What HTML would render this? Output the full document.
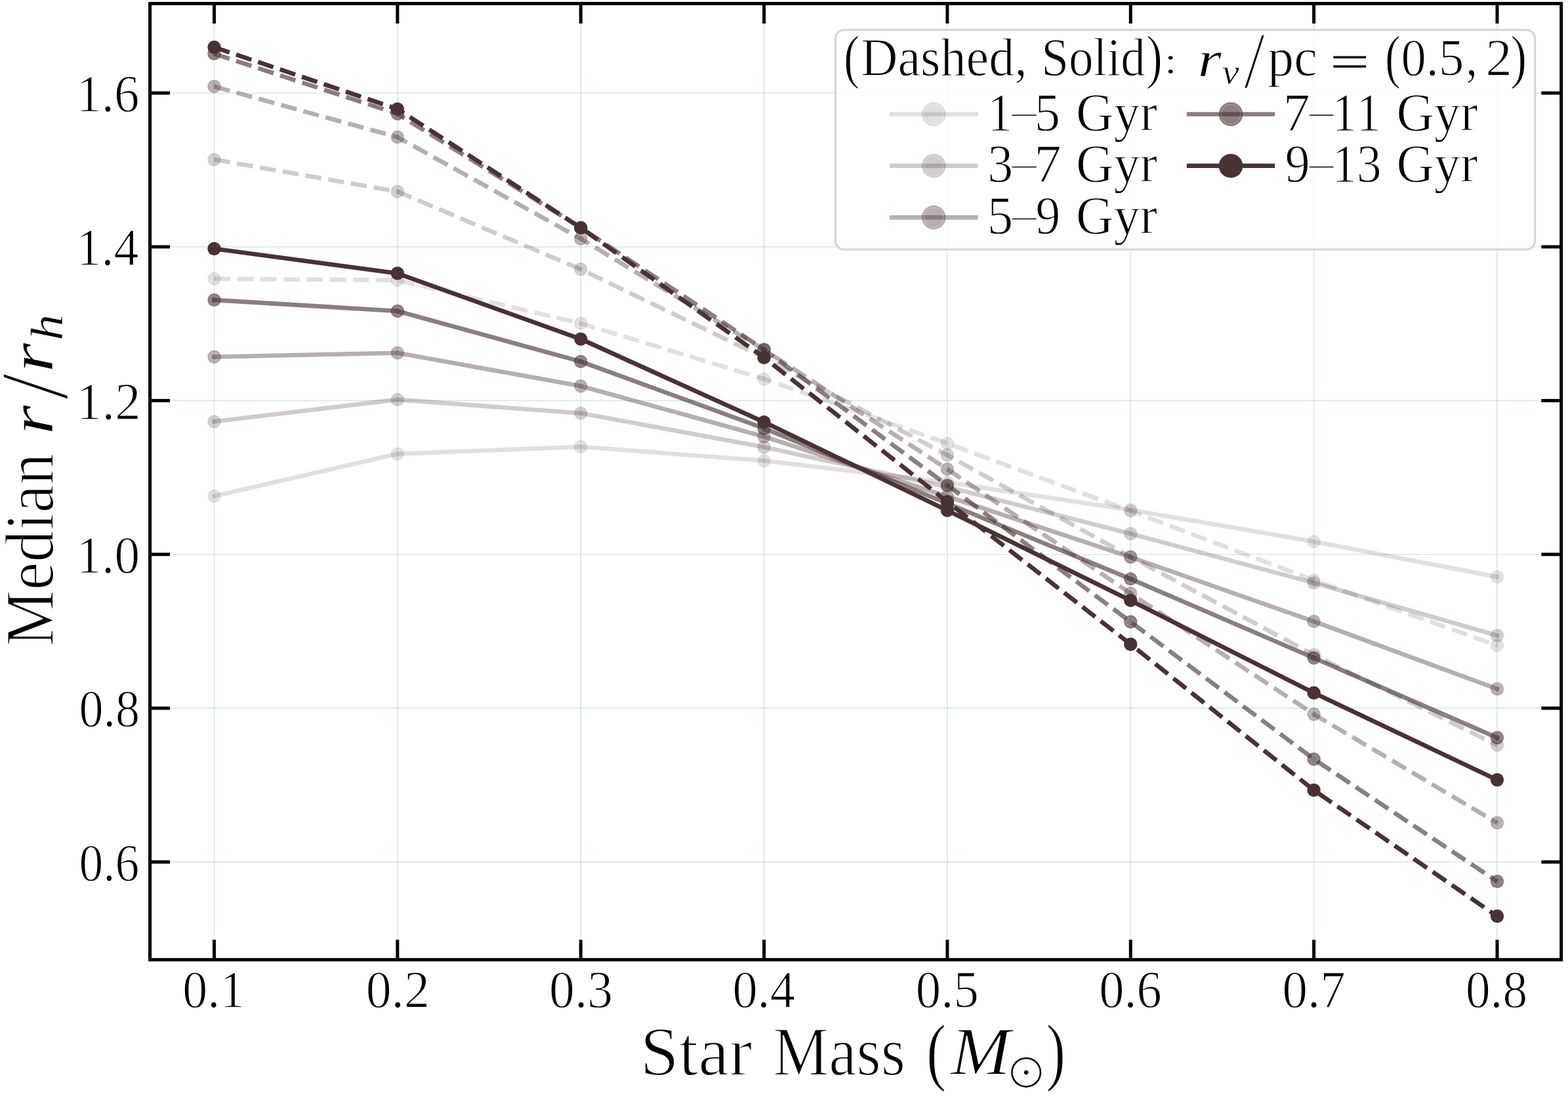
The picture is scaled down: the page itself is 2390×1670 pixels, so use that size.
<!DOCTYPE html>
<html lang="en"><head><meta charset="utf-8"><title>Median r/r_h vs Star Mass</title><style>html,body{margin:0;padding:0;background:#fff}body{width:2390px;height:1670px;overflow:hidden}</style></head>
<body>
<svg width="2390" height="1670" viewBox="0 0 2390 1670" role="img" aria-label="Median r/r_h versus star mass" font-family='"Liberation Serif", serif' fill="#000" style="display:block;font-kerning:none">
<style>text{stroke:#fff;stroke-width:1.3px;stroke-linejoin:round;paint-order:fill stroke}</style>
<rect width="2390" height="1670" fill="#fff"/>
<g stroke="#96bece" stroke-opacity="0.36" stroke-width="1.7" fill="none">
<line x1="326.50" y1="5.4" x2="326.50" y2="1462.3"/>
<line x1="605.86" y1="5.4" x2="605.86" y2="1462.3"/>
<line x1="885.22" y1="5.4" x2="885.22" y2="1462.3"/>
<line x1="1164.58" y1="5.4" x2="1164.58" y2="1462.3"/>
<line x1="1443.94" y1="5.4" x2="1443.94" y2="1462.3"/>
<line x1="1723.30" y1="5.4" x2="1723.30" y2="1462.3"/>
<line x1="2002.66" y1="5.4" x2="2002.66" y2="1462.3"/>
<line x1="2282.02" y1="5.4" x2="2282.02" y2="1462.3"/>
<line x1="228.6" y1="141.75" x2="2379.7" y2="141.75"/>
<line x1="228.6" y1="376.08" x2="2379.7" y2="376.08"/>
<line x1="228.6" y1="610.41" x2="2379.7" y2="610.41"/>
<line x1="228.6" y1="844.74" x2="2379.7" y2="844.74"/>
<line x1="228.6" y1="1079.07" x2="2379.7" y2="1079.07"/>
<line x1="228.6" y1="1313.40" x2="2379.7" y2="1313.40"/>
</g>
<g id="data">
<polyline points="326.50,424.80 605.86,426.90 885.22,492.80 1164.58,577.40 1443.94,675.70 1723.30,778.50 2002.66,884.30 2282.02,983.50" fill="none" stroke="#483234" stroke-opacity="0.158" stroke-width="6.65" stroke-dasharray="24.6 10.65" stroke-linejoin="round"/><g fill="#483234" fill-opacity="0.158"><circle cx="326.50" cy="424.80" r="10.2"/><circle cx="605.86" cy="426.90" r="10.2"/><circle cx="885.22" cy="492.80" r="10.2"/><circle cx="1164.58" cy="577.40" r="10.2"/><circle cx="1443.94" cy="675.70" r="10.2"/><circle cx="1723.30" cy="778.50" r="10.2"/><circle cx="2002.66" cy="884.30" r="10.2"/><circle cx="2282.02" cy="983.50" r="10.2"/></g><g fill="none" stroke="#fff" stroke-opacity="0.32" stroke-width="0.8" stroke-dasharray="4.5 1.6"><circle cx="326.50" cy="424.80" r="6.3"/><circle cx="605.86" cy="426.90" r="6.3"/><circle cx="885.22" cy="492.80" r="6.3"/><circle cx="1164.58" cy="577.40" r="6.3"/><circle cx="1443.94" cy="675.70" r="6.3"/><circle cx="1723.30" cy="778.50" r="6.3"/><circle cx="2002.66" cy="884.30" r="6.3"/><circle cx="2282.02" cy="983.50" r="6.3"/></g>
<polyline points="326.50,755.90 605.86,691.60 885.22,680.80 1164.58,702.00 1443.94,735.00 1723.30,777.00 2002.66,825.30 2282.02,879.00" fill="none" stroke="#483234" stroke-opacity="0.158" stroke-width="6.65" stroke-linecap="square" stroke-linejoin="round"/><g fill="#483234" fill-opacity="0.158"><circle cx="326.50" cy="755.90" r="10.2"/><circle cx="605.86" cy="691.60" r="10.2"/><circle cx="885.22" cy="680.80" r="10.2"/><circle cx="1164.58" cy="702.00" r="10.2"/><circle cx="1443.94" cy="735.00" r="10.2"/><circle cx="1723.30" cy="777.00" r="10.2"/><circle cx="2002.66" cy="825.30" r="10.2"/><circle cx="2282.02" cy="879.00" r="10.2"/></g><g fill="none" stroke="#fff" stroke-opacity="0.32" stroke-width="0.8" stroke-dasharray="4.5 1.6"><circle cx="326.50" cy="755.90" r="6.3"/><circle cx="605.86" cy="691.60" r="6.3"/><circle cx="885.22" cy="680.80" r="6.3"/><circle cx="1164.58" cy="702.00" r="6.3"/><circle cx="1443.94" cy="735.00" r="6.3"/><circle cx="1723.30" cy="777.00" r="6.3"/><circle cx="2002.66" cy="825.30" r="6.3"/><circle cx="2282.02" cy="879.00" r="6.3"/></g>
<polyline points="326.50,243.10 605.86,291.90 885.22,410.30 1164.58,545.00 1443.94,693.50 1723.30,848.50 2002.66,997.70 2282.02,1135.40" fill="none" stroke="#483234" stroke-opacity="0.251" stroke-width="6.65" stroke-dasharray="24.6 10.65" stroke-linejoin="round"/><g fill="#483234" fill-opacity="0.251"><circle cx="326.50" cy="243.10" r="10.2"/><circle cx="605.86" cy="291.90" r="10.2"/><circle cx="885.22" cy="410.30" r="10.2"/><circle cx="1164.58" cy="545.00" r="10.2"/><circle cx="1443.94" cy="693.50" r="10.2"/><circle cx="1723.30" cy="848.50" r="10.2"/><circle cx="2002.66" cy="997.70" r="10.2"/><circle cx="2282.02" cy="1135.40" r="10.2"/></g><g fill="none" stroke="#fff" stroke-opacity="0.32" stroke-width="0.8" stroke-dasharray="4.5 1.6"><circle cx="326.50" cy="243.10" r="6.3"/><circle cx="605.86" cy="291.90" r="6.3"/><circle cx="885.22" cy="410.30" r="6.3"/><circle cx="1164.58" cy="545.00" r="6.3"/><circle cx="1443.94" cy="693.50" r="6.3"/><circle cx="1723.30" cy="848.50" r="6.3"/><circle cx="2002.66" cy="997.70" r="6.3"/><circle cx="2282.02" cy="1135.40" r="6.3"/></g>
<polyline points="326.50,642.40 605.86,608.90 885.22,629.60 1164.58,681.20 1443.94,742.00 1723.30,813.20 2002.66,888.10 2282.02,968.40" fill="none" stroke="#483234" stroke-opacity="0.251" stroke-width="6.65" stroke-linecap="square" stroke-linejoin="round"/><g fill="#483234" fill-opacity="0.251"><circle cx="326.50" cy="642.40" r="10.2"/><circle cx="605.86" cy="608.90" r="10.2"/><circle cx="885.22" cy="629.60" r="10.2"/><circle cx="1164.58" cy="681.20" r="10.2"/><circle cx="1443.94" cy="742.00" r="10.2"/><circle cx="1723.30" cy="813.20" r="10.2"/><circle cx="2002.66" cy="888.10" r="10.2"/><circle cx="2282.02" cy="968.40" r="10.2"/></g><g fill="none" stroke="#fff" stroke-opacity="0.32" stroke-width="0.8" stroke-dasharray="4.5 1.6"><circle cx="326.50" cy="642.40" r="6.3"/><circle cx="605.86" cy="608.90" r="6.3"/><circle cx="885.22" cy="629.60" r="6.3"/><circle cx="1164.58" cy="681.20" r="6.3"/><circle cx="1443.94" cy="742.00" r="6.3"/><circle cx="1723.30" cy="813.20" r="6.3"/><circle cx="2002.66" cy="888.10" r="6.3"/><circle cx="2282.02" cy="968.40" r="6.3"/></g>
<polyline points="326.50,131.80 605.86,209.00 885.22,363.70 1164.58,532.70 1443.94,714.90 1723.30,904.30 2002.66,1088.30 2282.02,1253.80" fill="none" stroke="#483234" stroke-opacity="0.398" stroke-width="6.65" stroke-dasharray="24.6 10.65" stroke-linejoin="round"/><g fill="#483234" fill-opacity="0.398"><circle cx="326.50" cy="131.80" r="10.2"/><circle cx="605.86" cy="209.00" r="10.2"/><circle cx="885.22" cy="363.70" r="10.2"/><circle cx="1164.58" cy="532.70" r="10.2"/><circle cx="1443.94" cy="714.90" r="10.2"/><circle cx="1723.30" cy="904.30" r="10.2"/><circle cx="2002.66" cy="1088.30" r="10.2"/><circle cx="2282.02" cy="1253.80" r="10.2"/></g><g fill="none" stroke="#fff" stroke-opacity="0.32" stroke-width="0.8" stroke-dasharray="4.5 1.6"><circle cx="326.50" cy="131.80" r="6.3"/><circle cx="605.86" cy="209.00" r="6.3"/><circle cx="885.22" cy="363.70" r="6.3"/><circle cx="1164.58" cy="532.70" r="6.3"/><circle cx="1443.94" cy="714.90" r="6.3"/><circle cx="1723.30" cy="904.30" r="6.3"/><circle cx="2002.66" cy="1088.30" r="6.3"/><circle cx="2282.02" cy="1253.80" r="6.3"/></g>
<polyline points="326.50,543.80 605.86,537.70 885.22,588.25 1164.58,665.20 1443.94,756.50 1723.30,848.80 2002.66,946.80 2282.02,1049.80" fill="none" stroke="#483234" stroke-opacity="0.398" stroke-width="6.65" stroke-linecap="square" stroke-linejoin="round"/><g fill="#483234" fill-opacity="0.398"><circle cx="326.50" cy="543.80" r="10.2"/><circle cx="605.86" cy="537.70" r="10.2"/><circle cx="885.22" cy="588.25" r="10.2"/><circle cx="1164.58" cy="665.20" r="10.2"/><circle cx="1443.94" cy="756.50" r="10.2"/><circle cx="1723.30" cy="848.80" r="10.2"/><circle cx="2002.66" cy="946.80" r="10.2"/><circle cx="2282.02" cy="1049.80" r="10.2"/></g><g fill="none" stroke="#fff" stroke-opacity="0.32" stroke-width="0.8" stroke-dasharray="4.5 1.6"><circle cx="326.50" cy="543.80" r="6.3"/><circle cx="605.86" cy="537.70" r="6.3"/><circle cx="885.22" cy="588.25" r="6.3"/><circle cx="1164.58" cy="665.20" r="6.3"/><circle cx="1443.94" cy="756.50" r="6.3"/><circle cx="1723.30" cy="848.80" r="6.3"/><circle cx="2002.66" cy="946.80" r="6.3"/><circle cx="2282.02" cy="1049.80" r="6.3"/></g>
<polyline points="326.50,81.90 605.86,173.40 885.22,347.00 1164.58,532.70 1443.94,739.40 1723.30,947.50 2002.66,1156.70 2282.02,1343.00" fill="none" stroke="#483234" stroke-opacity="0.631" stroke-width="6.65" stroke-dasharray="24.6 10.65" stroke-linejoin="round"/><g fill="#483234" fill-opacity="0.631"><circle cx="326.50" cy="81.90" r="10.2"/><circle cx="605.86" cy="173.40" r="10.2"/><circle cx="885.22" cy="347.00" r="10.2"/><circle cx="1164.58" cy="532.70" r="10.2"/><circle cx="1443.94" cy="739.40" r="10.2"/><circle cx="1723.30" cy="947.50" r="10.2"/><circle cx="2002.66" cy="1156.70" r="10.2"/><circle cx="2282.02" cy="1343.00" r="10.2"/></g><g fill="none" stroke="#fff" stroke-opacity="0.32" stroke-width="0.8" stroke-dasharray="4.5 1.6"><circle cx="326.50" cy="81.90" r="6.3"/><circle cx="605.86" cy="173.40" r="6.3"/><circle cx="885.22" cy="347.00" r="6.3"/><circle cx="1164.58" cy="532.70" r="6.3"/><circle cx="1443.94" cy="739.40" r="6.3"/><circle cx="1723.30" cy="947.50" r="6.3"/><circle cx="2002.66" cy="1156.70" r="6.3"/><circle cx="2282.02" cy="1343.00" r="6.3"/></g>
<polyline points="326.50,457.10 605.86,474.00 885.22,550.90 1164.58,652.70 1443.94,767.00 1723.30,882.10 2002.66,1002.50 2282.02,1124.00" fill="none" stroke="#483234" stroke-opacity="0.631" stroke-width="6.65" stroke-linecap="square" stroke-linejoin="round"/><g fill="#483234" fill-opacity="0.631"><circle cx="326.50" cy="457.10" r="10.2"/><circle cx="605.86" cy="474.00" r="10.2"/><circle cx="885.22" cy="550.90" r="10.2"/><circle cx="1164.58" cy="652.70" r="10.2"/><circle cx="1443.94" cy="767.00" r="10.2"/><circle cx="1723.30" cy="882.10" r="10.2"/><circle cx="2002.66" cy="1002.50" r="10.2"/><circle cx="2282.02" cy="1124.00" r="10.2"/></g><g fill="none" stroke="#fff" stroke-opacity="0.32" stroke-width="0.8" stroke-dasharray="4.5 1.6"><circle cx="326.50" cy="457.10" r="6.3"/><circle cx="605.86" cy="474.00" r="6.3"/><circle cx="885.22" cy="550.90" r="6.3"/><circle cx="1164.58" cy="652.70" r="6.3"/><circle cx="1443.94" cy="767.00" r="6.3"/><circle cx="1723.30" cy="882.10" r="6.3"/><circle cx="2002.66" cy="1002.50" r="6.3"/><circle cx="2282.02" cy="1124.00" r="6.3"/></g>
<polyline points="326.50,71.95 605.86,166.10 885.22,347.10 1164.58,544.80 1443.94,764.60 1723.30,981.70 2002.66,1204.00 2282.02,1396.00" fill="none" stroke="#483234" stroke-opacity="1.0" stroke-width="6.65" stroke-dasharray="24.6 10.65" stroke-linejoin="round"/><g fill="#483234" fill-opacity="1.0"><circle cx="326.50" cy="71.95" r="10.2"/><circle cx="605.86" cy="166.10" r="10.2"/><circle cx="885.22" cy="347.10" r="10.2"/><circle cx="1164.58" cy="544.80" r="10.2"/><circle cx="1443.94" cy="764.60" r="10.2"/><circle cx="1723.30" cy="981.70" r="10.2"/><circle cx="2002.66" cy="1204.00" r="10.2"/><circle cx="2282.02" cy="1396.00" r="10.2"/></g>
<polyline points="326.50,379.00 605.86,416.55 885.22,516.60 1164.58,643.10 1443.94,777.70 1723.30,914.90 2002.66,1055.80 2282.02,1188.30" fill="none" stroke="#483234" stroke-opacity="1.0" stroke-width="6.65" stroke-linecap="square" stroke-linejoin="round"/><g fill="#483234" fill-opacity="1.0"><circle cx="326.50" cy="379.00" r="10.2"/><circle cx="605.86" cy="416.55" r="10.2"/><circle cx="885.22" cy="516.60" r="10.2"/><circle cx="1164.58" cy="643.10" r="10.2"/><circle cx="1443.94" cy="777.70" r="10.2"/><circle cx="1723.30" cy="914.90" r="10.2"/><circle cx="2002.66" cy="1055.80" r="10.2"/><circle cx="2282.02" cy="1188.30" r="10.2"/></g>
</g>
<g stroke="#000" stroke-width="5.0" fill="none">
<line x1="326.50" y1="5.4" x2="326.50" y2="35.8"/>
<line x1="326.50" y1="1462.3" x2="326.50" y2="1431.8999999999999"/>
<line x1="605.86" y1="5.4" x2="605.86" y2="35.8"/>
<line x1="605.86" y1="1462.3" x2="605.86" y2="1431.8999999999999"/>
<line x1="885.22" y1="5.4" x2="885.22" y2="35.8"/>
<line x1="885.22" y1="1462.3" x2="885.22" y2="1431.8999999999999"/>
<line x1="1164.58" y1="5.4" x2="1164.58" y2="35.8"/>
<line x1="1164.58" y1="1462.3" x2="1164.58" y2="1431.8999999999999"/>
<line x1="1443.94" y1="5.4" x2="1443.94" y2="35.8"/>
<line x1="1443.94" y1="1462.3" x2="1443.94" y2="1431.8999999999999"/>
<line x1="1723.30" y1="5.4" x2="1723.30" y2="35.8"/>
<line x1="1723.30" y1="1462.3" x2="1723.30" y2="1431.8999999999999"/>
<line x1="2002.66" y1="5.4" x2="2002.66" y2="35.8"/>
<line x1="2002.66" y1="1462.3" x2="2002.66" y2="1431.8999999999999"/>
<line x1="2282.02" y1="5.4" x2="2282.02" y2="35.8"/>
<line x1="2282.02" y1="1462.3" x2="2282.02" y2="1431.8999999999999"/>
<line x1="228.6" y1="141.75" x2="259.0" y2="141.75"/>
<line x1="2379.7" y1="141.75" x2="2349.2999999999997" y2="141.75"/>
<line x1="228.6" y1="376.08" x2="259.0" y2="376.08"/>
<line x1="2379.7" y1="376.08" x2="2349.2999999999997" y2="376.08"/>
<line x1="228.6" y1="610.41" x2="259.0" y2="610.41"/>
<line x1="2379.7" y1="610.41" x2="2349.2999999999997" y2="610.41"/>
<line x1="228.6" y1="844.74" x2="259.0" y2="844.74"/>
<line x1="2379.7" y1="844.74" x2="2349.2999999999997" y2="844.74"/>
<line x1="228.6" y1="1079.07" x2="259.0" y2="1079.07"/>
<line x1="2379.7" y1="1079.07" x2="2349.2999999999997" y2="1079.07"/>
<line x1="228.6" y1="1313.40" x2="259.0" y2="1313.40"/>
<line x1="2379.7" y1="1313.40" x2="2349.2999999999997" y2="1313.40"/>
<rect x="228.6" y="5.4" width="2151.10" height="1456.90" stroke-linejoin="miter"/>
</g>
<g id="ticklabels">
<text><tspan x="116.50" y="170.15" font-size="80.50" textLength="95.93" lengthAdjust="spacingAndGlyphs">1.6</tspan></text>
<text><tspan x="116.59" y="404.48" font-size="80.50" textLength="94.75" lengthAdjust="spacingAndGlyphs">1.4</tspan></text>
<text><tspan x="116.35" y="638.81" font-size="80.50" textLength="98.13" lengthAdjust="spacingAndGlyphs">1.2</tspan></text>
<text><tspan x="116.46" y="873.14" font-size="80.50" textLength="96.64" lengthAdjust="spacingAndGlyphs">1.0</tspan></text>
<text><tspan x="120.43" y="1107.47" font-size="80.50" textLength="92.54" lengthAdjust="spacingAndGlyphs">0.8</tspan></text>
<text><tspan x="120.45" y="1341.80" font-size="80.50" textLength="91.89" lengthAdjust="spacingAndGlyphs">0.6</tspan></text>
<text><tspan x="278.36" y="1535.00" font-size="80.50" textLength="94.96" lengthAdjust="spacingAndGlyphs">0.1</tspan></text>
<text><tspan x="557.64" y="1535.00" font-size="80.50" textLength="97.36" lengthAdjust="spacingAndGlyphs">0.2</tspan></text>
<text><tspan x="837.01" y="1535.00" font-size="80.50" textLength="97.20" lengthAdjust="spacingAndGlyphs">0.3</tspan></text>
<text><tspan x="1116.42" y="1535.00" font-size="80.50" textLength="95.50" lengthAdjust="spacingAndGlyphs">0.4</tspan></text>
<text><tspan x="1395.76" y="1535.00" font-size="80.50" textLength="96.13" lengthAdjust="spacingAndGlyphs">0.5</tspan></text>
<text><tspan x="1675.13" y="1535.00" font-size="80.50" textLength="95.70" lengthAdjust="spacingAndGlyphs">0.6</tspan></text>
<text><tspan x="1954.47" y="1535.00" font-size="80.50" textLength="96.36" lengthAdjust="spacingAndGlyphs">0.7</tspan></text>
<text><tspan x="2233.90" y="1535.00" font-size="80.50" textLength="94.24" lengthAdjust="spacingAndGlyphs">0.8</tspan></text>
</g>
<g id="xlabel">
<text><tspan x="975.81" y="1638.00" font-size="106.00" textLength="170.72" lengthAdjust="spacingAndGlyphs" style="stroke-width:2.00px">Star</tspan> <tspan x="1178.25" y="1638.00" font-size="106.00" textLength="201.70" lengthAdjust="spacingAndGlyphs" style="stroke-width:2.00px">Mass</tspan> <tspan x="1412.13" y="1640.20" font-size="113.40" textLength="29.69" lengthAdjust="spacingAndGlyphs">(</tspan><tspan x="1449.33" y="1637.40" font-size="103.50" textLength="91.19" lengthAdjust="spacingAndGlyphs" font-style="italic" style="stroke-width:1.50px">M</tspan><tspan x="1531.01" y="1659.30" font-size="79.59" textLength="66.69" lengthAdjust="spacingAndGlyphs" font-family='"DejaVu Serif", "DejaVu Sans", serif' style="stroke-width:3.60px">⊙</tspan><tspan x="1594.73" y="1640.20" font-size="113.40" textLength="29.17" lengthAdjust="spacingAndGlyphs">)</tspan></text>
</g>
<g id="ylabel">
<text transform="rotate(-90)"><tspan x="-984.88" y="80.50" font-size="106.00" textLength="294.44" lengthAdjust="spacingAndGlyphs" style="stroke-width:2.00px">Median</tspan> <tspan x="-662.23" y="79.50" font-size="96.00" textLength="44.94" lengthAdjust="spacingAndGlyphs" font-style="italic" style="stroke-width:0.70px">r</tspan><tspan x="-609.20" y="103.00" font-size="148.00" textLength="40.80" lengthAdjust="spacingAndGlyphs" style="stroke-width:2.60px">/</tspan><tspan x="-567.20" y="79.50" font-size="96.00" textLength="44.61" lengthAdjust="spacingAndGlyphs" font-style="italic" style="stroke-width:0.70px">r</tspan><tspan x="-519.05" y="95.00" font-size="70.00" textLength="40.13" lengthAdjust="spacingAndGlyphs" font-style="italic" style="stroke-width:0.70px">h</tspan></text>
</g>
<g id="legend">
<rect x="1273.4" y="45.6" width="1066.2" height="334.5" rx="13" ry="13" fill="#fff" fill-opacity="0.8" stroke="#ccc" stroke-opacity="0.8" stroke-width="3.1"/>
<text><tspan x="1285.93" y="117.30" font-size="91.45" textLength="24.38" lengthAdjust="spacingAndGlyphs">(</tspan><tspan x="1312.00" y="115.20" font-size="83.00" textLength="253.87" lengthAdjust="spacingAndGlyphs">Dashed,</tspan> <tspan x="1587.22" y="115.20" font-size="83.00" textLength="158.64" lengthAdjust="spacingAndGlyphs">Solid</tspan><tspan x="1747.27" y="117.30" font-size="91.45" textLength="24.63" lengthAdjust="spacingAndGlyphs">)</tspan><tspan x="1773.93" y="112.20" font-size="60.00" textLength="20.78" lengthAdjust="spacingAndGlyphs">:</tspan> <tspan x="1825.69" y="115.50" font-size="77.00" textLength="36.09" lengthAdjust="spacingAndGlyphs" font-style="italic" style="stroke-width:0.70px">r</tspan><tspan x="1862.65" y="126.80" font-size="53.00" textLength="26.00" lengthAdjust="spacingAndGlyphs" font-style="italic" style="stroke-width:0.70px">v</tspan><tspan x="1895.70" y="134.38" font-size="122.00" textLength="32.60" lengthAdjust="spacingAndGlyphs" style="stroke-width:2.40px">/</tspan><tspan x="1932.06" y="115.20" font-size="83.00" textLength="75.76" lengthAdjust="spacingAndGlyphs">pc</tspan> <tspan x="2027.07" y="117.90" font-size="69.50" textLength="60.36" lengthAdjust="spacingAndGlyphs" style="stroke:none">=</tspan> <tspan x="2111.08" y="117.30" font-size="91.45" textLength="23.99" lengthAdjust="spacingAndGlyphs">(</tspan><tspan x="2135.43" y="115.20" font-size="80.50" textLength="95.92" lengthAdjust="spacingAndGlyphs">0.5</tspan><tspan x="2234.31" y="115.20" font-size="83.00" textLength="17.96" lengthAdjust="spacingAndGlyphs">,</tspan> <tspan x="2264.42" y="115.20" font-size="80.50" textLength="40.16" lengthAdjust="spacingAndGlyphs">2</tspan><tspan x="2302.23" y="117.30" font-size="91.45" textLength="25.02" lengthAdjust="spacingAndGlyphs">)</tspan></text>
<line x1="1356.0" y1="174.0" x2="1490.6" y2="174.0" stroke="#483234" stroke-opacity="0.158" stroke-width="6.7"/><circle cx="1423.30" cy="174.0" r="18.3" fill="#483234" fill-opacity="0.158"/><circle cx="1423.30" cy="174.0" r="14.9" fill="none" stroke="#fff" stroke-opacity="0.45" stroke-width="0.8" stroke-dasharray="9 1.3"/><text><tspan x="1505.31" y="198.60" font-size="82.50" textLength="37.78" lengthAdjust="spacingAndGlyphs">1</tspan><tspan x="1542.90" y="183.49" font-size="30.00" textLength="36.21" lengthAdjust="spacingAndGlyphs" style="stroke:none">–</tspan><tspan x="1576.78" y="198.60" font-size="82.50" textLength="39.35" lengthAdjust="spacingAndGlyphs">5</tspan> <tspan x="1640.08" y="198.60" font-size="82.50" textLength="123.97" lengthAdjust="spacingAndGlyphs">Gyr</tspan></text>
<line x1="1356.0" y1="252.7" x2="1490.6" y2="252.7" stroke="#483234" stroke-opacity="0.251" stroke-width="6.7"/><circle cx="1423.30" cy="252.7" r="18.3" fill="#483234" fill-opacity="0.251"/><circle cx="1423.30" cy="252.7" r="14.9" fill="none" stroke="#fff" stroke-opacity="0.45" stroke-width="0.8" stroke-dasharray="9 1.3"/><text><tspan x="1505.22" y="277.30" font-size="82.50" textLength="38.97" lengthAdjust="spacingAndGlyphs">3</tspan><tspan x="1542.90" y="262.19" font-size="30.00" textLength="36.21" lengthAdjust="spacingAndGlyphs" style="stroke:none">–</tspan><tspan x="1576.37" y="277.30" font-size="82.50" textLength="41.58" lengthAdjust="spacingAndGlyphs">7</tspan> <tspan x="1640.08" y="277.30" font-size="82.50" textLength="123.97" lengthAdjust="spacingAndGlyphs">Gyr</tspan></text>
<line x1="1356.0" y1="331.4" x2="1490.6" y2="331.4" stroke="#483234" stroke-opacity="0.398" stroke-width="6.7"/><circle cx="1423.30" cy="331.4" r="18.3" fill="#483234" fill-opacity="0.398"/><circle cx="1423.30" cy="331.4" r="14.9" fill="none" stroke="#fff" stroke-opacity="0.45" stroke-width="0.8" stroke-dasharray="9 1.3"/><text><tspan x="1504.76" y="356.00" font-size="82.50" textLength="39.47" lengthAdjust="spacingAndGlyphs">5</tspan><tspan x="1542.90" y="340.89" font-size="30.00" textLength="36.21" lengthAdjust="spacingAndGlyphs" style="stroke:none">–</tspan><tspan x="1578.42" y="356.00" font-size="82.50" textLength="37.73" lengthAdjust="spacingAndGlyphs">9</tspan> <tspan x="1640.08" y="356.00" font-size="82.50" textLength="123.97" lengthAdjust="spacingAndGlyphs">Gyr</tspan></text>
<line x1="1808.9" y1="174.0" x2="1943.2" y2="174.0" stroke="#483234" stroke-opacity="0.631" stroke-width="6.7"/><circle cx="1876.05" cy="174.0" r="18.3" fill="#483234" fill-opacity="0.631"/><circle cx="1876.05" cy="174.0" r="14.9" fill="none" stroke="#fff" stroke-opacity="0.45" stroke-width="0.8" stroke-dasharray="9 1.3"/><text><tspan x="1955.82" y="198.60" font-size="82.50" textLength="41.21" lengthAdjust="spacingAndGlyphs">7</tspan><tspan x="1996.49" y="183.49" font-size="30.00" textLength="35.63" lengthAdjust="spacingAndGlyphs" style="stroke:none">–</tspan><tspan x="2030.53" y="198.60" font-size="82.50" textLength="74.17" lengthAdjust="spacingAndGlyphs">11</tspan> <tspan x="2128.48" y="198.60" font-size="82.50" textLength="123.97" lengthAdjust="spacingAndGlyphs">Gyr</tspan></text>
<line x1="1808.9" y1="252.7" x2="1943.2" y2="252.7" stroke="#483234" stroke-opacity="1.0" stroke-width="6.7"/><circle cx="1876.05" cy="252.7" r="18.3" fill="#483234" fill-opacity="1.0"/><text><tspan x="1958.80" y="277.30" font-size="82.50" textLength="37.96" lengthAdjust="spacingAndGlyphs">9</tspan><tspan x="1996.49" y="262.19" font-size="30.00" textLength="35.63" lengthAdjust="spacingAndGlyphs" style="stroke:none">–</tspan><tspan x="2030.44" y="277.30" font-size="82.50" textLength="75.25" lengthAdjust="spacingAndGlyphs">13</tspan> <tspan x="2128.48" y="277.30" font-size="82.50" textLength="123.97" lengthAdjust="spacingAndGlyphs">Gyr</tspan></text>
</g>
</svg>
</body></html>
